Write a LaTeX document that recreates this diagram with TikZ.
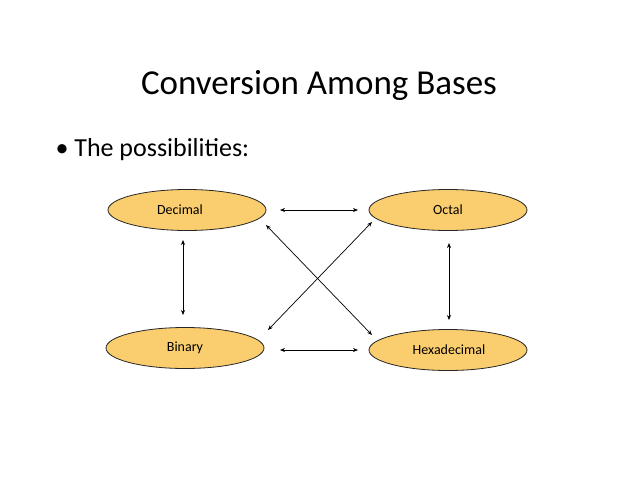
\documentclass[tikz,border=0pt]{standalone}
\usepackage{fontspec}
\setmainfont{Carlito}
\usetikzlibrary{shapes.geometric,arrows.meta}
\begin{document}
\begin{tikzpicture}[x=1pt,y=-1pt,
  el/.style={ellipse,draw=black!85,line width=0.8pt,fill={rgb,255:red,250;green,205;blue,110},minimum width=158pt,minimum height=41pt,inner sep=0pt,font=\fontsize{14}{16}\selectfont},
  ar/.style={{Stealth[length=5pt,width=4pt]}-{Stealth[length=5pt,width=4pt]},line width=0.7pt}]
\useasboundingbox (0,0) rectangle (638,493);
\node (title) at (319,85) {\fontsize{35}{42}\selectfont Conversion Among Bases};
\node[anchor=west] (bullet) at (52,150) {\fontsize{26}{31}\selectfont \textbullet\ The possibilities:};
\node[el] (dec) at (187,210) {\hspace*{-14pt}Decimal};
\node[el] (oct) at (448,210) {Octal};
\node[el] (bin) at (185,348) {Binary};
\node[el] (hex) at (448,350) {\hspace*{2pt}Hexadecimal};
\coordinate (a1) at (280,210); \coordinate (a2) at (358,210);
\coordinate (b1) at (280,350); \coordinate (b2) at (358,350);
\coordinate (c1) at (183,240); \coordinate (c2) at (183,315);
\coordinate (d1) at (449,243); \coordinate (d2) at (449,320);
\coordinate (e1) at (266,225); \coordinate (e2) at (372,335);
\coordinate (f1) at (268,330); \coordinate (f2) at (372,222);
\draw[ar] (a1) -- (a2);
\draw[ar] (b1) -- (b2);
\draw[ar] (c1) -- (c2);
\draw[ar] (d1) -- (d2);
\draw[ar] (e1) -- (e2);
\draw[ar] (f1) -- (f2);
\end{tikzpicture}
\end{document}
